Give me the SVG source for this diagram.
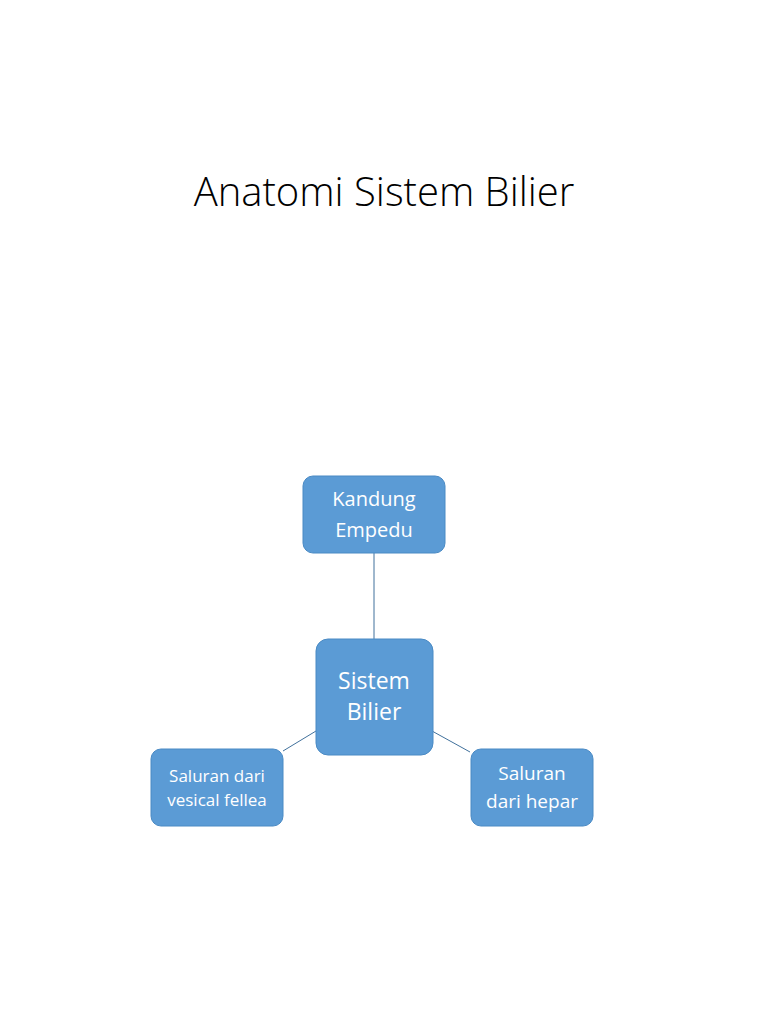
<svg xmlns="http://www.w3.org/2000/svg" width="768" height="1024" viewBox="0 0 768 1024">
<style>
.n{fill:#5b9bd5;stroke:#4a8ac4;stroke-width:1}
.t{font-family:"Open Sans","Liberation Sans",sans-serif;fill:#fff;text-anchor:middle}
.c{stroke:#41719c;stroke-width:1;fill:none}
</style>
<rect width="768" height="1024" fill="#fff"/>
<text x="384" y="206" font-family="'Open Sans','Liberation Sans',sans-serif" font-size="40" font-weight="300" text-anchor="middle" fill="#000">Anatomi Sistem Bilier</text>
<g id="connectors">
<line class="c" x1="374" y1="553" x2="374" y2="639"/>
<line class="c" x1="316" y1="731" x2="283" y2="751"/>
<line class="c" x1="432" y1="731" x2="470" y2="752"/>
</g>
<g id="kandung"><rect class="n" x="303" y="476" width="142" height="77" rx="10"/>
<text class="t" font-size="20" x="374" y="506">Kandung</text><text class="t" font-size="20" x="374" y="537">Empedu</text></g>
<g id="sistem"><rect class="n" x="316" y="639" width="117" height="116" rx="12"/>
<text class="t" font-size="23" x="374" y="689">Sistem</text><text class="t" font-size="23" x="374" y="720">Bilier</text></g>
<g id="vesical"><rect class="n" x="151" y="749" width="132" height="77" rx="10"/>
<text class="t" font-size="17" x="217" y="782">Saluran dari</text><text class="t" font-size="17" x="217" y="806">vesical fellea</text></g>
<g id="hepar"><rect class="n" x="471" y="749" width="122" height="77" rx="10"/>
<text class="t" font-size="19" x="532" y="780">Saluran</text><text class="t" font-size="19" x="532" y="808">dari hepar</text></g>
</svg>
